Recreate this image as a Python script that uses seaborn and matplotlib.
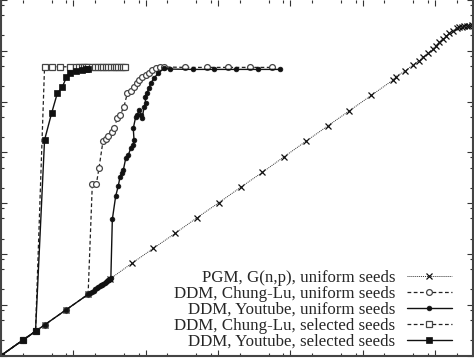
import matplotlib
matplotlib.use("Agg")
import matplotlib.pyplot as plt
import matplotlib.ticker as mticker
import seaborn as sns
import pandas as pd

# ---------------- data ----------------
labels = [
    "PGM, G(n,p), uniform seeds",
    "DDM, Chung-Lu, uniform seeds",
    "DDM, Youtube, uniform seeds",
    "DDM, Chung-Lu, selected seeds",
    "DDM, Youtube, selected seeds",
]

pgm_x = [1, 2, 4, 8, 16, 32, 64, 128, 256, 512, 1024, 2048, 4096, 8192, 16384,
         32768, 65536, 131072, 262144, 286000, 384000, 491000, 600000, 688000,
         807000, 929000, 1030000, 1150000, 1280000, 1420000, 1570000, 1750000,
         1990000, 2150000, 2340000, 2540000, 2740000, 2960000, 3210000]
pgm_y = [1, 2, 4, 8, 16, 32, 65, 129, 255, 516, 1018, 2046, 4036, 8185, 16500,
         33000, 65900, 132000, 265000, 308000, 398000, 523000, 636000, 762000,
         914000, 1080000, 1250000, 1460000, 1680000, 1950000, 2200000, 2480000,
         2760000, 2880000, 2970000, 3040000, 3100000, 3130000, 3160000]

clu_x = [1, 2, 4, 8, 16, 18.3, 20.8, 22.6, 25.7, 28, 30.1, 34.6, 36.5, 40.5,
         44.2, 50.1, 55.7, 62.1, 69, 76.6, 80.9, 89.8, 100, 111, 124, 138, 158,
         179, 350, 697, 1387, 2767, 5600]
clu_y = [1, 2, 4, 8, 16, 2377, 2377, 4842, 16700, 18000, 20900, 25500, 29700,
         46700, 54200, 79000, 145000, 163000, 196000, 234000, 265000, 299000,
         332000, 369000, 417000, 450000, 471000, 480000, 471000, 471000, 471000,
         471000, 471000]

ytu_x = [1, 2, 4, 8, 16, 17, 18, 19, 20, 21, 22, 23, 24, 25, 26, 27, 28, 29, 30,
         31, 32, 33, 34.6, 38.5, 41.8, 44.2, 46.6, 49.1, 53, 57.5, 62.1, 67.4,
         69, 67.4, 72.8, 76.6, 80.9, 85.3, 89.8, 94.8, 100, 97.9, 103, 111, 117,
         130, 148, 179, 217, 447, 889, 1774, 3538, 7190]
ytu_y = [1, 2, 4, 8, 16, 17, 18, 19, 20, 21, 22, 23, 24, 25, 26, 27, 28, 29, 30,
         31, 32, 33, 480, 1380, 2170, 3310, 3860, 4490, 7620, 8850, 12000, 13900,
         17500, 29700, 50200, 54200, 68000, 54200, 46700, 79000, 92200, 124000,
         145000, 182000, 228000, 286000, 359000, 450000, 436000, 430000, 430000,
         430000, 430000, 430000]

cls_x = [1, 2, 3, 4, 5, 6.5, 9, 11, 12, 13, 14, 15, 16, 18, 20, 22, 24, 26, 28,
         30, 33, 36, 39, 42, 45, 48, 52]
cls_y = [1, 2, 3, 484000, 484000, 484000, 484000, 484000, 484000, 484000,
         484000, 484000, 484000, 484000, 484000, 484000, 484000, 484000, 484000,
         484000, 484000, 484000, 484000, 484000, 484000, 484000, 484000]

yts_x = [1, 2, 3, 4, 5, 6, 7, 8, 9, 11, 13, 15, 16]
yts_y = [1, 2, 3, 17500, 58600, 145000, 190000, 299000, 369000, 404000, 417000,
         436000, 445000]

# ---------------- style ----------------
sns.set_theme(style="ticks")
plt.rcParams["font.family"] = ["Liberation Serif", "DejaVu Serif"]

fig = plt.figure(figsize=(4.74, 3.58), dpi=100)
ax = fig.add_axes([1 / 474, 2.5 / 358, 472 / 474, 355.5 / 358])
ax.set_xscale("log")
ax.set_yscale("log")

series = [
    (pgm_x, pgm_y, dict(color="#333333", linestyle=(0, (1, 1)), linewidth=0.7,
                        marker="x", markersize=4, markeredgewidth=0.9,
                        markeredgecolor="#111111")),
    (clu_x, clu_y, dict(color="#222222", linestyle=(0, (3, 2)), linewidth=0.9,
                        marker="o", markersize=4.2, markeredgewidth=0.9,
                        markerfacecolor="white", markeredgecolor="#444444")),
    (ytu_x, ytu_y, dict(color="#111111", linestyle="-", linewidth=1.0,
                        marker="o", markersize=3.4, markeredgewidth=0.5,
                        markerfacecolor="#111111", markeredgecolor="#111111")),
    (cls_x, cls_y, dict(color="#222222", linestyle=(0, (3, 2)), linewidth=0.9,
                        marker="s", markersize=4.0, markeredgewidth=0.9,
                        markerfacecolor="white", markeredgecolor="#444444")),
    (yts_x, yts_y, dict(color="#111111", linestyle="-", linewidth=1.0,
                        marker="s", markersize=4.0, markeredgewidth=0.5,
                        markerfacecolor="#111111", markeredgecolor="#111111")),
]

for (xs, ys, kw), lab in zip(series, labels):
    df = pd.DataFrame({"x": xs, "y": ys})
    sns.lineplot(data=df, x="x", y="y", ax=ax, sort=False, estimator=None,
                 label=lab, **kw)

ax.set_xlim(1, 10 ** 6.525)
ax.set_ylim(1, 1e7)
ax.set_xlabel("")
ax.set_ylabel("")

ax.xaxis.set_major_locator(mticker.LogLocator(base=10, numticks=20))
ax.yaxis.set_major_locator(mticker.LogLocator(base=10, numticks=20))
ax.xaxis.set_minor_locator(mticker.LogLocator(base=10, subs=(2.0, 5.0, 8.0), numticks=20))
ax.yaxis.set_minor_locator(mticker.LogLocator(base=10, subs=(2.0, 5.0, 8.0), numticks=20))
ax.xaxis.set_major_formatter(mticker.NullFormatter())
ax.yaxis.set_major_formatter(mticker.NullFormatter())
ax.xaxis.set_minor_formatter(mticker.NullFormatter())
ax.yaxis.set_minor_formatter(mticker.NullFormatter())
ax.tick_params(which="both", direction="in", top=True, right=True,
               bottom=True, left=True, color="#333333", width=0.8)
ax.tick_params(which="major", length=4.5)
ax.tick_params(which="minor", length=2.5)

for side in ["left", "right", "bottom"]:
    ax.spines[side].set_color("#444444")
    ax.spines[side].set_linewidth(1.5)
ax.spines["top"].set_visible(False)

handles, labs = ax.get_legend_handles_labels()
ax.legend(handles, labs, loc="lower right", bbox_to_anchor=(0.955, 0.016),
          frameon=False, markerfirst=False, handlelength=2.65,
          handletextpad=0.69, labelspacing=0.0, borderpad=0,
          borderaxespad=0, fontsize=12.2, numpoints=1)

fig.savefig("out.png", dpi=100)
